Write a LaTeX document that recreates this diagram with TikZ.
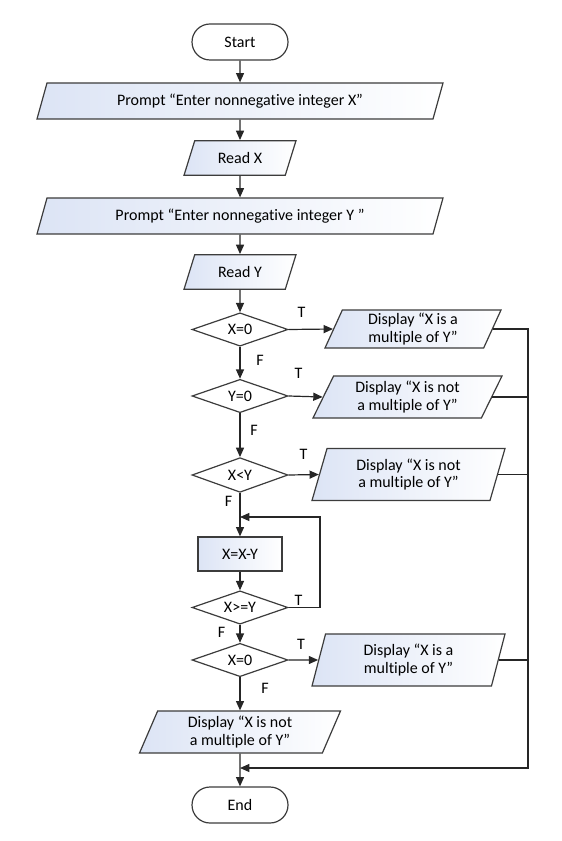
\documentclass[tikz,border=0pt]{standalone}
\usepackage{fontspec}
\setmainfont{Carlito}[Ligatures={NoCommon}]
\usetikzlibrary{arrows.meta, shapes.geometric}
\definecolor{ioBlue}{RGB}{220,228,245}
\definecolor{lineGray}{RGB}{60,60,60}
\tikzset{
  base/.style={draw=lineGray, line width=0.9pt, align=center, inner sep=2pt},
  term/.style={base, rectangle, rounded corners=13.5pt, minimum width=72pt, minimum height=27pt, fill=white},
  io/.style={base, trapezium, trapezium left angle=#1, trapezium right angle={180-#1},
    trapezium stretches body, left color=ioBlue, right color=white},
  io/.default=63,
  proc/.style={base, rectangle, left color=ioBlue, right color=white, minimum width=63pt, minimum height=25.5pt},
  test/.style={base, diamond, aspect=3, inner sep=0pt, minimum width=72pt, minimum height=25pt, fill=white},
  wire/.style={line width=0.9pt, draw=black!85},
  flow/.style={wire, -{Triangle[length=7pt,width=6pt]}}
}

\begin{document}
\begin{tikzpicture}[x=0.75pt, y=-0.75pt, font=\fontsize{12}{13.3}\selectfont]
  \useasboundingbox (0,0) rectangle (561,841);

  % main column
  \node[term] (start) at (240,42) {Start};
  \node[io, minimum width=304.5pt, minimum height=27pt] (promptX) at (240,101) {Prompt “Enter nonnegative integer X”};
  \node[io=57, minimum width=84pt, minimum height=26pt] (readX) at (240,158) {Read X};
  \node[io, minimum width=304.5pt, minimum height=27pt] (promptY) at (240,216) {Prompt “Enter nonnegative integer Y ”};
  \node[io=57, minimum width=84pt, minimum height=26pt] (readY) at (240,272) {Read Y};
  \node[test] (isX) at (240,329.5) {X=0};
  \node[test] (isY) at (240,396) {Y=0};
  \node[test, minimum height=26pt] (less) at (240,475) {X\textless Y};
  \node[proc] (sub) at (240,554) {X=X-Y};
  \node[test] (geq) at (240,607.5) {X\textgreater=Y};
  \node[test] (isX2) at (240,660) {X=0};
  \node[io=64, minimum width=150.75pt, minimum height=31.5pt] (notB) at (240,732) {Display “X is not\\a multiple of Y”};
  \node[term] (end) at (240,805) {End};

  % displays on the right
  \node[io=65, minimum width=132pt, minimum height=28.5pt] (multA) at (413,329) {Display “X is a\\multiple of Y”};
  \node[io=61, minimum width=141.75pt, minimum height=31.5pt] (notA) at (407.5,397) {Display “X is not\\a multiple of Y”};
  \node[io=68, minimum width=144.75pt, minimum height=39pt] (notC) at (408.5,474.5) {Display “X is not\\a multiple of Y”};
  \node[io=70, minimum width=144.75pt, minimum height=39pt] (multB) at (408.5,660) {Display “X is a\\multiple of Y”};

  \coordinate (loopTop) at (320,517);
  \coordinate (railBot) at (528,768);

  \draw[flow] (start) -- (promptX);
  \draw[flow] (promptX) -- (readX);
  \draw[flow] (readX) -- (promptY);
  \draw[flow] (promptY) -- (readY);
  \draw[flow] (readY) -- (isX);
  \draw[flow] (isX) -- (isY);
  \draw[flow] (isY) -- (less);
  \draw[flow] (less) -- (sub);
  \draw[flow] (sub) -- (geq);
  \draw[flow] (geq) -- (isX2);
  \draw[flow] (isX2) -- (notB);
  \draw[flow] (notB) -- (end);

  \draw[flow] (isX.east) -- (multA.west);
  \draw[flow] (isY.east) -- (notA.west);
  \draw[flow] (less.east) -- (notC.west);
  \draw[flow] (isX2.east) -- (multB.west);
  \draw[flow] (geq.east) -| (loopTop) -- (loopTop -| sub.north);

  \draw[flow] (multA.east) -| (railBot) -- (railBot -| notB.south);
  \draw[wire] (notA.east) -- (notA.east -| railBot);
  \draw[wire] (notC.east) -- (notC.east -| railBot);
  \draw[wire] (multB.east) -- (multB.east -| railBot);

  % branch labels
  \node (tA) at (301.5,312) {T};
  \node (fA) at (260,360) {F};
  \node (tB) at (298.5,373) {T};
  \node (fB) at (254,430) {F};
  \node (tC) at (303.5,454) {T};
  \node (fC) at (228.5,501) {F};
  \node (tD) at (298.5,600.5) {T};
  \node (fD) at (221.5,632) {F};
  \node (tE) at (301,644) {T};
  \node (fE) at (265,688) {F};
\end{tikzpicture}
\end{document}
